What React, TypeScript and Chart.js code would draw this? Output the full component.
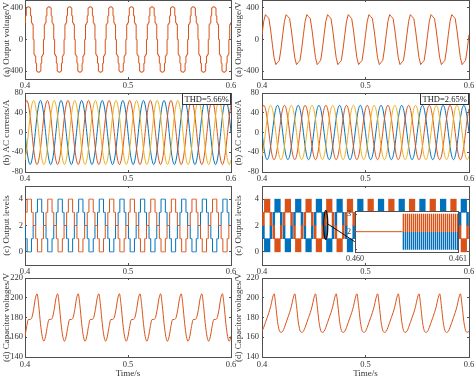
import React, { useEffect, useRef } from 'react';
import { Chart, registerables } from 'chart.js';

Chart.register(...registerables);

const FONT_FAMILY = '"Liberation Serif", "Times New Roman", Times, serif';
Chart.defaults.font.family = FONT_FAMILY;
Chart.defaults.color = '#333333';

/* ============================ data ============================ */
const X_MIN = 0.4;
const X_MAX = 0.6;
const X_TICKS = [0.4, 0.5, 0.6];
const X_TICK_LABELS = ['0.4', '0.5', '0.6'];
const X_TITLE = 'Time/s';

// sampling instants (s): 1/600 s and 1/1200 s over 0.4 - 0.6 s
const T_COARSE = Array.from({ length: 121 }, (_, i) => X_MIN + i / 600);
const T_FINE = Array.from({ length: 241 }, (_, i) => X_MIN + i / 1200);

const TITLE_A = '(a) Output voltage/V';
const TITLE_B = '(b) AC currents/A';
const TITLE_C = '(c) Output levels';
const TITLE_D = '(d) Capacitor voltages/V';

const Y_RANGE_A = [-500, 500];
const Y_TICKS_A = [-400, 0, 400];
const Y_RANGE_B = [-80, 80];
const Y_TICKS_B = [-80, -40, 0, 40, 80];
const Y_RANGE_C = [-1, 5];
const Y_TICKS_C = [0, 2, 4];
const Y_RANGE_D = [140, 220];
const Y_TICKS_D = [140, 160, 180, 200, 220];

const THD_LEFT = 'THD=5.66%';
const THD_RIGHT = 'THD=2.65%';

// (a) left : output voltage (V), fine grid
const VOLT_LEFT = [
  210, 300, 400, 410, 415, 410, 400, 300, 210, 190, 0, -190, -210, -300, -400, -410, -415, -410, -400, -300, -210, -190, 0, 190,
  210, 300, 400, 410, 415, 410, 400, 300, 210, 190, 0, -190, -210, -300, -400, -410, -415, -410, -400, -300, -210, -190, 0, 190,
  210, 300, 400, 410, 415, 410, 400, 300, 210, 190, 0, -190, -210, -300, -400, -410, -415, -410, -400, -300, -210, -190, 0, 190,
  210, 300, 400, 410, 415, 410, 400, 300, 210, 190, 0, -190, -210, -300, -400, -410, -415, -410, -400, -300, -210, -190, 0, 190,
  210, 300, 400, 410, 415, 410, 400, 300, 210, 190, 0, -190, -210, -300, -400, -410, -415, -410, -400, -300, -210, -190, 0, 190,
  210, 300, 400, 410, 415, 410, 400, 300, 210, 190, 0, -190, -210, -300, -400, -410, -415, -410, -400, -300, -210, -190, 0, 190,
  210, 300, 400, 410, 415, 410, 400, 300, 210, 190, 0, -190, -210, -300, -400, -410, -415, -410, -400, -300, -210, -190, 0, 190,
  210, 300, 400, 410, 415, 410, 400, 300, 210, 190, 0, -190, -210, -300, -400, -410, -415, -410, -400, -300, -210, -190, 0, 190,
  210, 300, 400, 410, 415, 410, 400, 300, 210, 190, 0, -190, -210, -300, -400, -410, -415, -410, -400, -300, -210, -190, 0, 190,
  210, 300, 400, 410, 415, 410, 400, 300, 210, 190, 0, -190, -210, -300, -400, -410, -415, -410, -400, -300, -210, -190, 0, 190,
  210,
];

// (a) right : output voltage (V), coarse grid
const VOLT_RIGHT = [
  60, 230, 315, 290, 265, 120, -60, -230, -318, -290, -265, -120,
  60, 230, 315, 290, 265, 120, -60, -230, -318, -290, -265, -120,
  60, 230, 315, 290, 265, 120, -60, -230, -318, -290, -265, -120,
  60, 230, 315, 290, 265, 120, -60, -230, -318, -290, -265, -120,
  60, 230, 315, 290, 265, 120, -60, -230, -318, -290, -265, -120,
  60, 230, 315, 290, 265, 120, -60, -230, -318, -290, -265, -120,
  60, 230, 315, 290, 265, 120, -60, -230, -318, -290, -265, -120,
  60, 230, 315, 290, 265, 120, -60, -230, -318, -290, -265, -120,
  60, 230, 315, 290, 265, 120, -60, -230, -318, -290, -265, -120,
  60, 230, 315, 290, 265, 120, -60, -230, -318, -290, -265, -120,
  60,
];

// (b) left : three-phase AC currents (A), coarse grid
const CUR_LEFT_RED = [
  56, 65, 56, 33, 0, -33, -56, -65, -56, -33, 0, 33,
  56, 65, 56, 33, 0, -33, -56, -65, -56, -33, 0, 33,
  56, 65, 56, 33, 0, -33, -56, -65, -56, -33, 0, 33,
  56, 65, 56, 33, 0, -33, -56, -65, -56, -33, 0, 33,
  56, 65, 56, 33, 0, -33, -56, -65, -56, -33, 0, 33,
  56, 65, 56, 33, 0, -33, -56, -65, -56, -33, 0, 33,
  56, 65, 56, 33, 0, -33, -56, -65, -56, -33, 0, 33,
  56, 65, 56, 33, 0, -33, -56, -65, -56, -33, 0, 33,
  56, 65, 56, 33, 0, -33, -56, -65, -56, -33, 0, 33,
  56, 65, 56, 33, 0, -33, -56, -65, -56, -33, 0, 33,
  56,
];
const CUR_LEFT_YELLOW = [
  -56, -33, 0, 33, 56, 65, 56, 33, 0, -33, -56, -65,
  -56, -33, 0, 33, 56, 65, 56, 33, 0, -33, -56, -65,
  -56, -33, 0, 33, 56, 65, 56, 33, 0, -33, -56, -65,
  -56, -33, 0, 33, 56, 65, 56, 33, 0, -33, -56, -65,
  -56, -33, 0, 33, 56, 65, 56, 33, 0, -33, -56, -65,
  -56, -33, 0, 33, 56, 65, 56, 33, 0, -33, -56, -65,
  -56, -33, 0, 33, 56, 65, 56, 33, 0, -33, -56, -65,
  -56, -33, 0, 33, 56, 65, 56, 33, 0, -33, -56, -65,
  -56, -33, 0, 33, 56, 65, 56, 33, 0, -33, -56, -65,
  -56, -33, 0, 33, 56, 65, 56, 33, 0, -33, -56, -65,
  -56,
];
const CUR_LEFT_BLUE = [
  0, -33, -56, -65, -56, -33, 0, 33, 56, 65, 56, 33,
  0, -33, -56, -65, -56, -33, 0, 33, 56, 65, 56, 33,
  0, -33, -56, -65, -56, -33, 0, 33, 56, 65, 56, 33,
  0, -33, -56, -65, -56, -33, 0, 33, 56, 65, 56, 33,
  0, -33, -56, -65, -56, -33, 0, 33, 56, 65, 56, 33,
  0, -33, -56, -65, -56, -33, 0, 33, 56, 65, 56, 33,
  0, -33, -56, -65, -56, -33, 0, 33, 56, 65, 56, 33,
  0, -33, -56, -65, -56, -33, 0, 33, 56, 65, 56, 33,
  0, -33, -56, -65, -56, -33, 0, 33, 56, 65, 56, 33,
  0, -33, -56, -65, -56, -33, 0, 33, 56, 65, 56, 33,
  0,
];

// (b) right : three-phase AC currents (A), coarse grid
const CUR_RIGHT_RED = [
  48, 55, 48, 28, 0, -28, -48, -55, -48, -28, 0, 28,
  48, 55, 48, 28, 0, -28, -48, -55, -48, -28, 0, 28,
  48, 55, 48, 28, 0, -28, -48, -55, -48, -28, 0, 28,
  48, 55, 48, 28, 0, -28, -48, -55, -48, -28, 0, 28,
  48, 55, 48, 28, 0, -28, -48, -55, -48, -28, 0, 28,
  48, 55, 48, 28, 0, -28, -48, -55, -48, -28, 0, 28,
  48, 55, 48, 28, 0, -28, -48, -55, -48, -28, 0, 28,
  48, 55, 48, 28, 0, -28, -48, -55, -48, -28, 0, 28,
  48, 55, 48, 28, 0, -28, -48, -55, -48, -28, 0, 28,
  48, 55, 48, 28, 0, -28, -48, -55, -48, -28, 0, 28,
  48,
];
const CUR_RIGHT_YELLOW = [
  -48, -28, 0, 28, 48, 55, 48, 28, 0, -28, -48, -55,
  -48, -28, 0, 28, 48, 55, 48, 28, 0, -28, -48, -55,
  -48, -28, 0, 28, 48, 55, 48, 28, 0, -28, -48, -55,
  -48, -28, 0, 28, 48, 55, 48, 28, 0, -28, -48, -55,
  -48, -28, 0, 28, 48, 55, 48, 28, 0, -28, -48, -55,
  -48, -28, 0, 28, 48, 55, 48, 28, 0, -28, -48, -55,
  -48, -28, 0, 28, 48, 55, 48, 28, 0, -28, -48, -55,
  -48, -28, 0, 28, 48, 55, 48, 28, 0, -28, -48, -55,
  -48, -28, 0, 28, 48, 55, 48, 28, 0, -28, -48, -55,
  -48, -28, 0, 28, 48, 55, 48, 28, 0, -28, -48, -55,
  -48,
];
const CUR_RIGHT_BLUE = [
  0, -28, -48, -55, -48, -28, 0, 28, 48, 55, 48, 28,
  0, -28, -48, -55, -48, -28, 0, 28, 48, 55, 48, 28,
  0, -28, -48, -55, -48, -28, 0, 28, 48, 55, 48, 28,
  0, -28, -48, -55, -48, -28, 0, 28, 48, 55, 48, 28,
  0, -28, -48, -55, -48, -28, 0, 28, 48, 55, 48, 28,
  0, -28, -48, -55, -48, -28, 0, 28, 48, 55, 48, 28,
  0, -28, -48, -55, -48, -28, 0, 28, 48, 55, 48, 28,
  0, -28, -48, -55, -48, -28, 0, 28, 48, 55, 48, 28,
  0, -28, -48, -55, -48, -28, 0, 28, 48, 55, 48, 28,
  0, -28, -48, -55, -48, -28, 0, 28, 48, 55, 48, 28,
  0,
];

// (c) left : arm output levels, fine grid
const LEVEL_LEFT_ORANGE = [
  2, 3, 3, 4, 4, 4, 4, 4, 3, 3, 2, 2, 2, 1, 1, 0, 0, 0, 0, 0, 1, 1, 2, 2,
  2, 3, 3, 4, 4, 4, 4, 4, 3, 3, 2, 2, 2, 1, 1, 0, 0, 0, 0, 0, 1, 1, 2, 2,
  2, 3, 3, 4, 4, 4, 4, 4, 3, 3, 2, 2, 2, 1, 1, 0, 0, 0, 0, 0, 1, 1, 2, 2,
  2, 3, 3, 4, 4, 4, 4, 4, 3, 3, 2, 2, 2, 1, 1, 0, 0, 0, 0, 0, 1, 1, 2, 2,
  2, 3, 3, 4, 4, 4, 4, 4, 3, 3, 2, 2, 2, 1, 1, 0, 0, 0, 0, 0, 1, 1, 2, 2,
  2, 3, 3, 4, 4, 4, 4, 4, 3, 3, 2, 2, 2, 1, 1, 0, 0, 0, 0, 0, 1, 1, 2, 2,
  2, 3, 3, 4, 4, 4, 4, 4, 3, 3, 2, 2, 2, 1, 1, 0, 0, 0, 0, 0, 1, 1, 2, 2,
  2, 3, 3, 4, 4, 4, 4, 4, 3, 3, 2, 2, 2, 1, 1, 0, 0, 0, 0, 0, 1, 1, 2, 2,
  2, 3, 3, 4, 4, 4, 4, 4, 3, 3, 2, 2, 2, 1, 1, 0, 0, 0, 0, 0, 1, 1, 2, 2,
  2, 3, 3, 4, 4, 4, 4, 4, 3, 3, 2, 2, 2, 1, 1, 0, 0, 0, 0, 0, 1, 1, 2, 2,
  2,
];
const LEVEL_LEFT_BLUE = [
  2, 1, 1, 0, 0, 0, 0, 0, 1, 1, 2, 2, 2, 3, 3, 4, 4, 4, 4, 4, 3, 3, 2, 2,
  2, 1, 1, 0, 0, 0, 0, 0, 1, 1, 2, 2, 2, 3, 3, 4, 4, 4, 4, 4, 3, 3, 2, 2,
  2, 1, 1, 0, 0, 0, 0, 0, 1, 1, 2, 2, 2, 3, 3, 4, 4, 4, 4, 4, 3, 3, 2, 2,
  2, 1, 1, 0, 0, 0, 0, 0, 1, 1, 2, 2, 2, 3, 3, 4, 4, 4, 4, 4, 3, 3, 2, 2,
  2, 1, 1, 0, 0, 0, 0, 0, 1, 1, 2, 2, 2, 3, 3, 4, 4, 4, 4, 4, 3, 3, 2, 2,
  2, 1, 1, 0, 0, 0, 0, 0, 1, 1, 2, 2, 2, 3, 3, 4, 4, 4, 4, 4, 3, 3, 2, 2,
  2, 1, 1, 0, 0, 0, 0, 0, 1, 1, 2, 2, 2, 3, 3, 4, 4, 4, 4, 4, 3, 3, 2, 2,
  2, 1, 1, 0, 0, 0, 0, 0, 1, 1, 2, 2, 2, 3, 3, 4, 4, 4, 4, 4, 3, 3, 2, 2,
  2, 1, 1, 0, 0, 0, 0, 0, 1, 1, 2, 2, 2, 3, 3, 4, 4, 4, 4, 4, 3, 3, 2, 2,
  2, 1, 1, 0, 0, 0, 0, 0, 1, 1, 2, 2, 2, 3, 3, 4, 4, 4, 4, 4, 3, 3, 2, 2,
  2,
];

// (c) right : switching intervals [start, end] (s) of each level band
const SWITCH_SET_A = [
  [0.4023, 0.4077], [0.4223, 0.4277], [0.4423, 0.4477], [0.4623, 0.4677], [0.4823, 0.4877],
  [0.5023, 0.5077], [0.5223, 0.5277], [0.5423, 0.5477], [0.5623, 0.5677], [0.5823, 0.5877],
];
const SWITCH_SET_B = [
  [0.4123, 0.4177], [0.4323, 0.4377], [0.4523, 0.4577], [0.4723, 0.4777], [0.4923, 0.4977],
  [0.5123, 0.5177], [0.5323, 0.5377], [0.5523, 0.5577], [0.5723, 0.5777], [0.5923, 0.5977],
];
const SWITCH_STRIP_A = [
  [0.4005, 0.4023], [0.4077, 0.4095], [0.4205, 0.4223], [0.4277, 0.4295], [0.4405, 0.4423],
  [0.4477, 0.4495], [0.4605, 0.4623], [0.4677, 0.4695], [0.4805, 0.4823], [0.4877, 0.4895],
  [0.5005, 0.5023], [0.5077, 0.5095], [0.5205, 0.5223], [0.5277, 0.5295], [0.5405, 0.5423],
  [0.5477, 0.5495], [0.5605, 0.5623], [0.5677, 0.5695], [0.5805, 0.5823], [0.5877, 0.5895],
];
const SWITCH_STRIP_B = [
  [0.4105, 0.4123], [0.4177, 0.4195], [0.4305, 0.4323], [0.4377, 0.4395], [0.4505, 0.4523],
  [0.4577, 0.4595], [0.4705, 0.4723], [0.4777, 0.4795], [0.4905, 0.4923], [0.4977, 0.4995],
  [0.5105, 0.5123], [0.5177, 0.5195], [0.5305, 0.5323], [0.5377, 0.5395], [0.5505, 0.5523],
  [0.5577, 0.5595], [0.5705, 0.5723], [0.5777, 0.5795], [0.5905, 0.5923], [0.5977, 0.5995],
];
const BAND_TOP = 3.5;
const BAND_UPPER_MID = 2.5;
const BAND_LOWER_MID = 1.5;
const BAND_BOTTOM = 0.5;

// zoom marker in (c) right
const ZOOM_ELLIPSE = { t: 0.4616, level: 2.04, halfT: 0.0019, halfLevel: 1.09 };
const ZOOM_LINE = [[0.4625, 2.17], [0.4896, 0.77]];

// inset of (c) right
const INSET_X_RANGE = [0.46, 0.461];
const INSET_X_TICKS = [0.46, 0.461];
const INSET_X_LABELS = ['0.460', '0.461'];
const INSET_Y_RANGE = [0.85, 3.17];
const INSET_Y_TICKS = [1, 2, 3];
const INSET_Y_LABELS = ['', '2', '3'];
const INSET_FLAT = [[0.46, 2], [0.46046, 2]];
const INSET_SWITCH = [0.46046, 0.461];

// (d) capacitor voltages (V), coarse grid
const CAP_LEFT = [
  161, 171, 178, 178, 180, 188, 199, 204, 192, 174, 161, 156,
  161, 171, 178, 178, 180, 188, 199, 204, 192, 174, 161, 156,
  161, 171, 178, 178, 180, 188, 199, 204, 192, 174, 161, 156,
  161, 171, 178, 178, 180, 188, 199, 204, 192, 174, 161, 156,
  161, 171, 178, 178, 180, 188, 199, 204, 192, 174, 161, 156,
  161, 171, 178, 178, 180, 188, 199, 204, 192, 174, 161, 156,
  161, 171, 178, 178, 180, 188, 199, 204, 192, 174, 161, 156,
  161, 171, 178, 178, 180, 188, 199, 204, 192, 174, 161, 156,
  161, 171, 178, 178, 180, 188, 199, 204, 192, 174, 161, 156,
  161, 171, 178, 178, 180, 188, 199, 204, 192, 174, 161, 156,
  161,
];
const CAP_RIGHT = [
  166, 170, 175, 180, 185, 191, 199, 204, 192, 176, 167, 165,
  166, 170, 175, 180, 185, 191, 199, 204, 192, 176, 167, 165,
  166, 170, 175, 180, 185, 191, 199, 204, 192, 176, 167, 165,
  166, 170, 175, 180, 185, 191, 199, 204, 192, 176, 167, 165,
  166, 170, 175, 180, 185, 191, 199, 204, 192, 176, 167, 165,
  166, 170, 175, 180, 185, 191, 199, 204, 192, 176, 167, 165,
  166, 170, 175, 180, 185, 191, 199, 204, 192, 176, 167, 165,
  166, 170, 175, 180, 185, 191, 199, 204, 192, 176, 167, 165,
  166, 170, 175, 180, 185, 191, 199, 204, 192, 176, 167, 165,
  166, 170, 175, 180, 185, 191, 199, 204, 192, 176, 167, 165,
  166,
];

/* ============================ style ============================ */
const BLUE = '#0072BD';
const ORANGE = '#D95319';
const YELLOW = '#EDB120';
const AXIS_COLOR = '#505050';
const TEXT_COLOR = '#333333';
const TICK_LEN = -2;
const PLOT_H = 79;

type Col = { canvasLeft: number; yAxisW: number; plotW: number; padR: number; yLabPad: number; yTitlePad: number };
type Row = {
  plotTop: number; padT: number; xAxisH: number; xLabPad: number; xTitle?: string; xTitlePad?: number;
  yRange: number[]; yTicks: number[]; yTitle: string;
};

const COL_LEFT: Col = { canvasLeft: 0, yAxisW: 25, plotW: 206, padR: 7, yLabPad: 4, yTitlePad: 1 };
const COL_RIGHT: Col = { canvasLeft: 231, yAxisW: 31, plotW: 207, padR: 5, yLabPad: 5, yTitlePad: 2 };

const ROW_A: Row = { plotTop: 0, padT: 0, xAxisH: 14, xLabPad: 4, yRange: Y_RANGE_A, yTicks: Y_TICKS_A, yTitle: TITLE_A };
const ROW_B: Row = { plotTop: 93, padT: 6, xAxisH: 14, xLabPad: 4, yRange: Y_RANGE_B, yTicks: Y_TICKS_B, yTitle: TITLE_B };
const ROW_C: Row = { plotTop: 186, padT: 6, xAxisH: 14, xLabPad: 4, yRange: Y_RANGE_C, yTicks: Y_TICKS_C, yTitle: TITLE_C };
const ROW_D: Row = {
  plotTop: 278, padT: 6, xAxisH: 25, xLabPad: 5, xTitle: X_TITLE, xTitlePad: 3,
  yRange: Y_RANGE_D, yTicks: Y_TICKS_D, yTitle: TITLE_D,
};

function zeroPad(s: any) {
  s.paddingLeft = 0;
  s.paddingRight = 0;
  s.paddingTop = 0;
  s.paddingBottom = 0;
}

type ScaleSpec = {
  xRange: number[]; xTicks: number[]; xLabels: string[];
  yRange: number[]; yTicks: number[]; yLabels: string[];
  yTitle?: string; xTitle?: string;
  yAxisW: number; xAxisH: number; yLabPad: number; xLabPad: number; yTitlePad: number; xTitlePad?: number;
  tickSize: number;
};

function makeScales(p: ScaleSpec) {
  const grid = { display: true, drawOnChartArea: false, drawTicks: true, tickLength: TICK_LEN, color: AXIS_COLOR, lineWidth: 1, offset: false };
  const border = { display: true, color: AXIS_COLOR, width: 1 };
  const font = { size: p.tickSize, family: FONT_FAMILY };
  const setX = (s: any) => { s.ticks = p.xTicks.map((v) => ({ value: v })); };
  const setY = (s: any) => { s.ticks = p.yTicks.map((v) => ({ value: v })); };
  return {
    x: {
      type: 'linear', position: 'bottom', min: p.xRange[0], max: p.xRange[1], offset: false, grid, border,
      ticks: { autoSkip: false, maxRotation: 0, minRotation: 0, padding: p.xLabPad, font, color: TEXT_COLOR, callback: (_v: any, i: number) => p.xLabels[i] },
      title: p.xTitle
        ? { display: true, text: p.xTitle, color: TEXT_COLOR, font: { size: 9, family: FONT_FAMILY }, padding: { top: 0, bottom: p.xTitlePad ?? 0 } }
        : { display: false },
      afterBuildTicks: setX,
      afterFit: (s: any) => { s.height = p.xAxisH; zeroPad(s); },
    },
    x2: {
      type: 'linear', position: 'top', min: p.xRange[0], max: p.xRange[1], offset: false, grid, border,
      ticks: { display: false },
      afterBuildTicks: setX,
      afterFit: (s: any) => { s.height = 0; zeroPad(s); },
    },
    y: {
      type: 'linear', position: 'left', min: p.yRange[0], max: p.yRange[1], offset: false, grid, border,
      ticks: { autoSkip: false, padding: p.yLabPad, font, color: TEXT_COLOR, callback: (_v: any, i: number) => p.yLabels[i] },
      title: p.yTitle
        ? { display: true, text: p.yTitle, color: TEXT_COLOR, font: { size: 9, family: FONT_FAMILY }, padding: { top: p.yTitlePad, bottom: 0 } }
        : { display: false },
      afterBuildTicks: setY,
      afterFit: (s: any) => { s.width = p.yAxisW; zeroPad(s); },
    },
    y2: {
      type: 'linear', position: 'right', min: p.yRange[0], max: p.yRange[1], offset: false, grid, border,
      ticks: { display: false },
      afterBuildTicks: setY,
      afterFit: (s: any) => { s.width = 0; zeroPad(s); },
    },
  };
}

function baseOptions(padT: number, padR: number, scales: any) {
  return {
    responsive: false,
    maintainAspectRatio: false,
    animation: false,
    devicePixelRatio: 1,
    events: [],
    layout: { padding: { left: 0, top: padT, right: padR, bottom: 0 }, autoPadding: false },
    plugins: { legend: { display: false }, tooltip: { enabled: false }, title: { display: false } },
    scales,
  };
}

function panelScales(col: Col, row: Row) {
  return makeScales({
    xRange: [X_MIN, X_MAX], xTicks: X_TICKS, xLabels: X_TICK_LABELS,
    yRange: row.yRange, yTicks: row.yTicks, yLabels: row.yTicks.map((v) => String(v)),
    yTitle: row.yTitle, xTitle: row.xTitle,
    yAxisW: col.yAxisW, xAxisH: row.xAxisH, yLabPad: col.yLabPad, xLabPad: row.xLabPad,
    yTitlePad: col.yTitlePad, xTitlePad: row.xTitlePad, tickSize: 8.5,
  });
}

function geometry(col: Col, row: Row) {
  return {
    left: col.canvasLeft,
    top: row.plotTop - row.padT,
    width: col.yAxisW + col.plotW + col.padR,
    height: row.padT + PLOT_H + row.xAxisH,
  };
}

function lineDS(data: number[], color: string, extra: any = {}) {
  return {
    type: 'line', data, borderColor: color, backgroundColor: color, borderWidth: 1,
    pointRadius: 0, pointHoverRadius: 0, fill: false, tension: 0, xAxisID: 'x', yAxisID: 'y', ...extra,
  };
}

function bandDS(intervals: number[][], band: number, color: any) {
  return {
    type: 'bar', indexAxis: 'y', data: intervals.map(([s, e]) => ({ x: [s, e], y: band })),
    backgroundColor: color, borderWidth: 0, barPercentage: 1, categoryPercentage: 1, grouped: false,
    xAxisID: 'x', yAxisID: 'y',
  };
}

function thdPlugin(text: string) {
  return {
    id: 'thdBox',
    afterDatasetsDraw(chart: any) {
      const { ctx, chartArea: a } = chart;
      ctx.save();
      ctx.font = `8.5px ${FONT_FAMILY}`;
      const w = Math.round(ctx.measureText(text).width + 5);
      const h = 12;
      const x0 = Math.round(a.right) - w;
      const y0 = Math.round(a.top);
      ctx.fillStyle = '#ffffff';
      ctx.fillRect(x0, y0, w, h);
      ctx.strokeStyle = '#333333';
      ctx.lineWidth = 1;
      ctx.strokeRect(x0 + 0.5, y0 + 0.5, w - 1, h - 1);
      ctx.fillStyle = '#222222';
      ctx.textBaseline = 'middle';
      ctx.fillText(text, x0 + 2.5, y0 + h / 2 + 0.5);
      ctx.restore();
    },
  };
}

const zoomMarkPlugin = {
  id: 'zoomMark',
  afterDatasetsDraw(chart: any) {
    const { ctx } = chart;
    const x = chart.scales.x;
    const y = chart.scales.y;
    const cx = x.getPixelForValue(ZOOM_ELLIPSE.t);
    const cy = y.getPixelForValue(ZOOM_ELLIPSE.level);
    const rx = Math.abs(x.getPixelForValue(ZOOM_ELLIPSE.t + ZOOM_ELLIPSE.halfT) - cx);
    const ry = Math.abs(y.getPixelForValue(ZOOM_ELLIPSE.level + ZOOM_ELLIPSE.halfLevel) - cy);
    ctx.save();
    ctx.strokeStyle = '#111111';
    ctx.lineWidth = 1.3;
    ctx.beginPath();
    ctx.ellipse(cx, cy, rx, ry, 0, 0, Math.PI * 2);
    ctx.stroke();
    ctx.lineWidth = 1;
    ctx.beginPath();
    ctx.moveTo(x.getPixelForValue(ZOOM_LINE[0][0]), y.getPixelForValue(ZOOM_LINE[0][1]));
    ctx.lineTo(x.getPixelForValue(ZOOM_LINE[1][0]), y.getPixelForValue(ZOOM_LINE[1][1]));
    ctx.stroke();
    ctx.restore();
  },
};

const whiteAreaPlugin = {
  id: 'whiteArea',
  beforeDraw(chart: any) {
    const { ctx, chartArea: a } = chart;
    ctx.save();
    ctx.fillStyle = '#ffffff';
    ctx.fillRect(a.left, a.top, a.right - a.left, a.bottom - a.top);
    ctx.restore();
  },
};

function stripes(c1: string, c2: string) {
  const cv = document.createElement('canvas');
  cv.width = 2;
  cv.height = 1;
  const g = cv.getContext('2d') as CanvasRenderingContext2D;
  g.fillStyle = c2;
  g.fillRect(0, 0, 2, 1);
  g.fillStyle = c1;
  g.fillRect(0, 0, 1, 1);
  return g.createPattern(cv, 'repeat');
}

/* ============================ panels ============================ */
type Panel = { key: string; geo: { left: number; top: number; width: number; height: number }; build: () => any };

function linePanel(key: string, col: Col, row: Row, labels: number[], datasets: any[], plugins: any[] = []): Panel {
  return {
    key,
    geo: geometry(col, row),
    build: () => ({
      type: 'line',
      data: { labels, datasets },
      options: baseOptions(row.padT, col.padR, panelScales(col, row)),
      plugins,
    }),
  };
}

const INSET_GEO = { left: 343, top: 210, width: 124, height: 54 };
const INSET_LAYOUT = { yAxisW: 12, xAxisH: 12, padT: 1, padR: 9, yLabPad: 6, xLabPad: 4 };

const PANELS: Panel[] = [
  linePanel('aL', COL_LEFT, ROW_A, T_FINE, [lineDS(VOLT_LEFT, ORANGE, { stepped: 'middle' })]),
  linePanel('aR', COL_RIGHT, ROW_A, T_COARSE, [lineDS(VOLT_RIGHT, ORANGE)]),
  linePanel('bL', COL_LEFT, ROW_B, T_COARSE, [
    lineDS(CUR_LEFT_YELLOW, YELLOW, { cubicInterpolationMode: 'monotone' }),
    lineDS(CUR_LEFT_RED, ORANGE, { cubicInterpolationMode: 'monotone' }),
    lineDS(CUR_LEFT_BLUE, BLUE, { cubicInterpolationMode: 'monotone' }),
  ], [thdPlugin(THD_LEFT)]),
  linePanel('bR', COL_RIGHT, ROW_B, T_COARSE, [
    lineDS(CUR_RIGHT_YELLOW, YELLOW, { cubicInterpolationMode: 'monotone' }),
    lineDS(CUR_RIGHT_RED, ORANGE, { cubicInterpolationMode: 'monotone' }),
    lineDS(CUR_RIGHT_BLUE, BLUE, { cubicInterpolationMode: 'monotone' }),
  ], [thdPlugin(THD_RIGHT)]),
  linePanel('cL', COL_LEFT, ROW_C, T_FINE, [
    lineDS(LEVEL_LEFT_ORANGE, ORANGE, { stepped: 'middle' }),
    lineDS(LEVEL_LEFT_BLUE, BLUE, { stepped: 'middle' }),
  ]),
  {
    key: 'cR',
    geo: geometry(COL_RIGHT, ROW_C),
    build: () => ({
      type: 'bar',
      data: {
        datasets: [
          bandDS(SWITCH_SET_A, BAND_TOP, ORANGE),
          bandDS(SWITCH_STRIP_A, BAND_UPPER_MID, ORANGE),
          bandDS(SWITCH_STRIP_B, BAND_LOWER_MID, ORANGE),
          bandDS(SWITCH_SET_B, BAND_BOTTOM, ORANGE),
          bandDS(SWITCH_SET_B, BAND_TOP, BLUE),
          bandDS(SWITCH_STRIP_B, BAND_UPPER_MID, BLUE),
          bandDS(SWITCH_STRIP_A, BAND_LOWER_MID, BLUE),
          bandDS(SWITCH_SET_A, BAND_BOTTOM, BLUE),
        ],
      },
      options: baseOptions(ROW_C.padT, COL_RIGHT.padR, panelScales(COL_RIGHT, ROW_C)),
      plugins: [zoomMarkPlugin],
    }),
  },
  linePanel('dL', COL_LEFT, ROW_D, T_COARSE, [lineDS(CAP_LEFT, ORANGE, { cubicInterpolationMode: 'monotone' })]),
  linePanel('dR', COL_RIGHT, ROW_D, T_COARSE, [lineDS(CAP_RIGHT, ORANGE, { cubicInterpolationMode: 'monotone' })]),
  {
    key: 'inset',
    geo: INSET_GEO,
    build: () => ({
      type: 'bar',
      data: {
        datasets: [
          {
            type: 'line', data: INSET_FLAT.map(([x, y]) => ({ x, y })), borderColor: ORANGE, borderWidth: 1,
            pointRadius: 0, fill: false, xAxisID: 'x', yAxisID: 'y',
          },
          bandDS([INSET_SWITCH], BAND_UPPER_MID, stripes(ORANGE, '#f4c2ab')),
          bandDS([INSET_SWITCH], BAND_LOWER_MID, stripes(BLUE, '#a8c9e6')),
        ],
      },
      options: baseOptions(INSET_LAYOUT.padT, INSET_LAYOUT.padR, makeScales({
        xRange: INSET_X_RANGE, xTicks: INSET_X_TICKS, xLabels: INSET_X_LABELS,
        yRange: INSET_Y_RANGE, yTicks: INSET_Y_TICKS, yLabels: INSET_Y_LABELS,
        yAxisW: INSET_LAYOUT.yAxisW, xAxisH: INSET_LAYOUT.xAxisH, yLabPad: INSET_LAYOUT.yLabPad,
        xLabPad: INSET_LAYOUT.xLabPad, yTitlePad: 0, tickSize: 8,
      })),
      plugins: [whiteAreaPlugin],
    }),
  },
];

function ChartCanvas({ geo, build }: { geo: Panel['geo']; build: () => any }) {
  const ref = useRef<HTMLCanvasElement | null>(null);
  useEffect(() => {
    const canvas = ref.current;
    if (!canvas) return undefined;
    const chart = new Chart(canvas, build());
    return () => chart.destroy();
  }, [build]);
  return (
    <canvas
      ref={ref}
      width={geo.width}
      height={geo.height}
      style={{ position: 'absolute', left: geo.left, top: geo.top, width: geo.width, height: geo.height }}
    />
  );
}

export default function App() {
  return (
    <div style={{ position: 'fixed', left: 0, top: 0, width: 474, height: 389, background: '#ffffff', overflow: 'hidden' }}>
      {PANELS.map((p) => (
        <ChartCanvas key={p.key} geo={p.geo} build={p.build} />
      ))}
    </div>
  );
}
